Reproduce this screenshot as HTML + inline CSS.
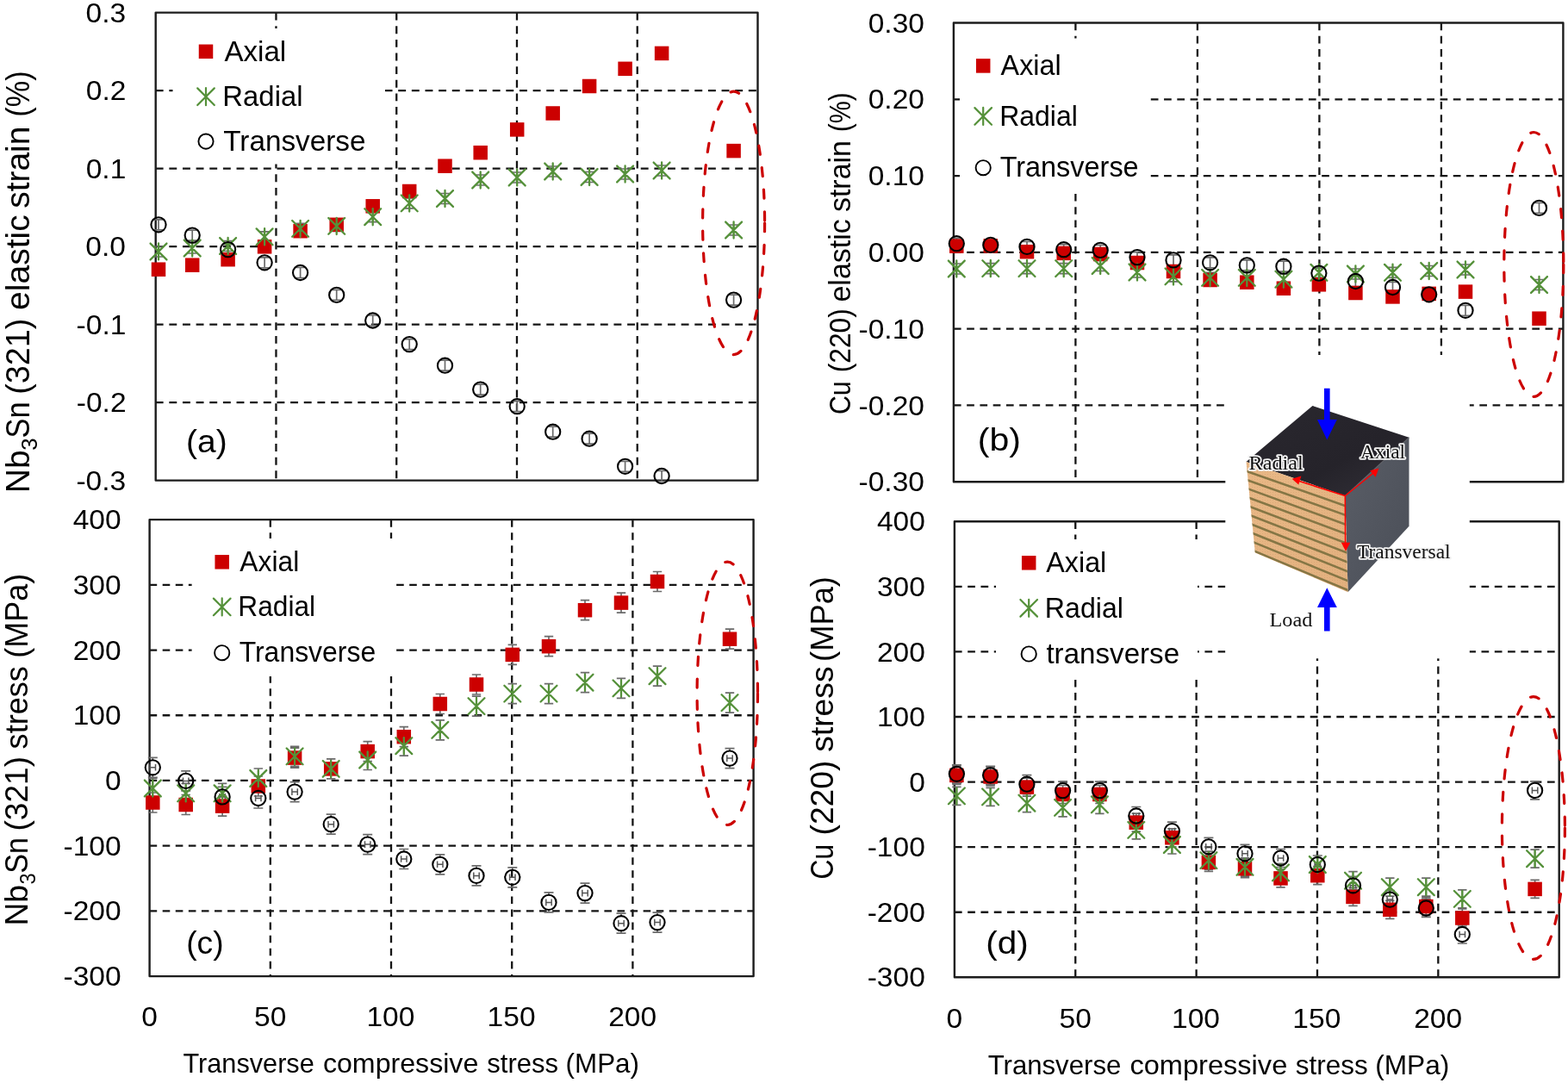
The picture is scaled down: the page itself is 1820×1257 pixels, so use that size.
<!DOCTYPE html>
<html><head><meta charset="utf-8"><title>Figure</title>
<style>
html,body{margin:0;padding:0;background:#fff;}
svg{display:block;}
#w{width:1820px;height:1257px;}
text.s{font-family:"Liberation Sans",Arial,sans-serif;fill:#000;}
text.r{font-family:"Liberation Serif","Times New Roman",serif;fill:#111;}
</style></head><body><div id="w">
<svg width="1820" height="1257" viewBox="0 0 1820 1257">
<rect width="1820" height="1257" fill="#fff"/>
<g stroke="#141414" stroke-width="2.3" stroke-dasharray="8.91 6.73" fill="none">
<line x1="180.7" y1="105.1" x2="879.5" y2="105.1"/>
<line x1="180.7" y1="195.6" x2="879.5" y2="195.6"/>
<line x1="180.7" y1="286.1" x2="879.5" y2="286.1"/>
<line x1="180.7" y1="376.6" x2="879.5" y2="376.6"/>
<line x1="180.7" y1="467.1" x2="879.5" y2="467.1"/>
<line x1="320.46" y1="14.6" x2="320.46" y2="557.6"/>
<line x1="460.22" y1="14.6" x2="460.22" y2="557.6"/>
<line x1="599.98" y1="14.6" x2="599.98" y2="557.6"/>
<line x1="739.74" y1="14.6" x2="739.74" y2="557.6"/>
</g>
<g stroke="#141414" stroke-width="2.3" stroke-dasharray="8.7 6.56" fill="none">
<line x1="1106.9" y1="115.28" x2="1814.4" y2="115.28"/>
<line x1="1106.9" y1="204.07" x2="1814.4" y2="204.07"/>
<line x1="1106.9" y1="292.85" x2="1814.4" y2="292.85"/>
<line x1="1106.9" y1="381.63" x2="1814.4" y2="381.63"/>
<line x1="1106.9" y1="470.42" x2="1814.4" y2="470.42"/>
<line x1="1248.4" y1="26.5" x2="1248.4" y2="559.2"/>
<line x1="1389.9" y1="26.5" x2="1389.9" y2="559.2"/>
<line x1="1531.4" y1="26.5" x2="1531.4" y2="559.2"/>
<line x1="1672.9" y1="26.5" x2="1672.9" y2="559.2"/>
</g>
<g stroke="#141414" stroke-width="2.3" stroke-dasharray="8.6 6.48" fill="none">
<line x1="173.6" y1="678.81" x2="874.6" y2="678.81"/>
<line x1="173.6" y1="754.53" x2="874.6" y2="754.53"/>
<line x1="173.6" y1="830.24" x2="874.6" y2="830.24"/>
<line x1="173.6" y1="905.96" x2="874.6" y2="905.96"/>
<line x1="173.6" y1="981.67" x2="874.6" y2="981.67"/>
<line x1="173.6" y1="1057.39" x2="874.6" y2="1057.39"/>
<line x1="313.8" y1="603.1" x2="313.8" y2="1133.1"/>
<line x1="454" y1="603.1" x2="454" y2="1133.1"/>
<line x1="594.2" y1="603.1" x2="594.2" y2="1133.1"/>
<line x1="734.4" y1="603.1" x2="734.4" y2="1133.1"/>
</g>
<g stroke="#141414" stroke-width="2.3" stroke-dasharray="8.72 6.57" fill="none">
<line x1="1107.9" y1="680.87" x2="1809.7" y2="680.87"/>
<line x1="1107.9" y1="756.44" x2="1809.7" y2="756.44"/>
<line x1="1107.9" y1="832.01" x2="1809.7" y2="832.01"/>
<line x1="1107.9" y1="907.59" x2="1809.7" y2="907.59"/>
<line x1="1107.9" y1="983.16" x2="1809.7" y2="983.16"/>
<line x1="1107.9" y1="1058.73" x2="1809.7" y2="1058.73"/>
<line x1="1248.26" y1="605.3" x2="1248.26" y2="1134.3"/>
<line x1="1388.62" y1="605.3" x2="1388.62" y2="1134.3"/>
<line x1="1528.98" y1="605.3" x2="1528.98" y2="1134.3"/>
<line x1="1669.34" y1="605.3" x2="1669.34" y2="1134.3"/>
</g>
<g fill="#fff">
<rect x="200.5" y="33" width="246.5" height="157.5"/>
<rect x="1114" y="44.5" width="221" height="180.3"/>
<rect x="222.6" y="625" width="236.4" height="160"/>
<rect x="1156" y="626" width="234" height="163"/>
</g>
<g stroke="#1c1c1c" stroke-width="2.4" stroke-linejoin="round" fill="none">
<rect x="180.7" y="14.6" width="698.8" height="543"/>
<rect x="1106.9" y="26.5" width="707.5" height="532.7"/>
<rect x="173.6" y="603.1" width="701" height="530"/>
<rect x="1107.9" y="605.3" width="701.8" height="529"/>
</g>
<path fill="none" stroke="#6b6b6b" stroke-width="1.7" d="M184 306.7V318.7M178.8 306.7H189.2M178.8 318.7H189.2M223.2 301.7V313.7M218 301.7H228.4M218 313.7H228.4M264.6 295.2V307.2M259.4 295.2H269.8M259.4 307.2H269.8M307.1 280.3V292.3M301.9 280.3H312.3M301.9 292.3H312.3M348.6 262.2V274.2M343.4 262.2H353.8M343.4 274.2H353.8M390.7 254.8V266.8M385.5 254.8H395.9M385.5 266.8H395.9M432.7 233.3V245.3M427.5 233.3H437.9M427.5 245.3H437.9M475.2 216V228M470 216H480.4M470 228H480.4M516.5 186.7V198.7M511.3 186.7H521.7M511.3 198.7H521.7M557.7 171.2V183.2M552.5 171.2H562.9M552.5 183.2H562.9M600.2 144.4V156.4M595 144.4H605.4M595 156.4H605.4M641.7 125.5V137.5M636.5 125.5H646.9M636.5 137.5H646.9M684.1 94V106M678.9 94H689.3M678.9 106H689.3M725.6 73.8V85.8M720.4 73.8H730.8M720.4 85.8H730.8M768.1 55.9V67.9M762.9 55.9H773.3M762.9 67.9H773.3M851.6 169.1V181.1M846.4 169.1H856.8M846.4 181.1H856.8M184 286V298M178.8 286H189.2M178.8 298H189.2M223.2 282V294M218 282H228.4M218 294H228.4M264.6 279.5V291.5M259.4 279.5H269.8M259.4 291.5H269.8M307.1 268.8V280.8M301.9 268.8H312.3M301.9 280.8H312.3M348.6 259.4V271.4M343.4 259.4H353.8M343.4 271.4H353.8M390.7 256.4V268.4M385.5 256.4H395.9M385.5 268.4H395.9M432.7 245.7V257.7M427.5 245.7H437.9M427.5 257.7H437.9M475.2 229.9V241.9M470 229.9H480.4M470 241.9H480.4M516.5 224.5V236.5M511.3 224.5H521.7M511.3 236.5H521.7M557.7 203V215M552.5 203H562.9M552.5 215H562.9M600.2 200V212M595 200H605.4M595 212H605.4M641.7 193V205M636.5 193H646.9M636.5 205H646.9M684.1 199.5V211.5M678.9 199.5H689.3M678.9 211.5H689.3M725.6 196V208M720.4 196H730.8M720.4 208H730.8M768.1 192V204M762.9 192H773.3M762.9 204H773.3M851.6 261V273M846.4 261H856.8M846.4 273H856.8M184 254.8V266.8M178.5 254.8H189.5M178.5 266.8H189.5M223.2 267.1V279.1M217.7 267.1H228.7M217.7 279.1H228.7M264.6 283.6V295.6M259.1 283.6H270.1M259.1 295.6H270.1M307.1 298.8V310.8M301.6 298.8H312.6M301.6 310.8H312.6M348.6 310.5V322.5M343.1 310.5H354.1M343.1 322.5H354.1M390.7 336.4V348.4M385.2 336.4H396.2M385.2 348.4H396.2M432.7 366V378M427.2 366H438.2M427.2 378H438.2M475.2 393.6V405.6M469.7 393.6H480.7M469.7 405.6H480.7M516.5 418.2V430.2M511 418.2H522M511 430.2H522M557.7 446.1V458.1M552.2 446.1H563.2M552.2 458.1H563.2M600.2 465.7V477.7M594.7 465.7H605.7M594.7 477.7H605.7M641.7 495.2V507.2M636.2 495.2H647.2M636.2 507.2H647.2M684.1 503.2V515.2M678.6 503.2H689.6M678.6 515.2H689.6M725.6 535.3V547.3M720.1 535.3H731.1M720.1 547.3H731.1M768.1 546.5V558.5M762.6 546.5H773.6M762.6 558.5H773.6M851.6 342.1V354.1M846.1 342.1H857.1M846.1 354.1H857.1"/>
<g fill="#cc0000">
<rect x="175.75" y="304.45" width="16.5" height="16.5"/>
<rect x="214.95" y="299.45" width="16.5" height="16.5"/>
<rect x="256.35" y="292.95" width="16.5" height="16.5"/>
<rect x="298.85" y="278.05" width="16.5" height="16.5"/>
<rect x="340.35" y="259.95" width="16.5" height="16.5"/>
<rect x="382.45" y="252.55" width="16.5" height="16.5"/>
<rect x="424.45" y="231.05" width="16.5" height="16.5"/>
<rect x="466.95" y="213.75" width="16.5" height="16.5"/>
<rect x="508.25" y="184.45" width="16.5" height="16.5"/>
<rect x="549.45" y="168.95" width="16.5" height="16.5"/>
<rect x="591.95" y="142.15" width="16.5" height="16.5"/>
<rect x="633.45" y="123.25" width="16.5" height="16.5"/>
<rect x="675.85" y="91.75" width="16.5" height="16.5"/>
<rect x="717.35" y="71.55" width="16.5" height="16.5"/>
<rect x="759.85" y="53.65" width="16.5" height="16.5"/>
<rect x="843.35" y="166.85" width="16.5" height="16.5"/>
</g>
<path fill="none" stroke="#55913a" stroke-width="2.3" stroke-linecap="round" d="M174.59 282.59L193.41 301.41M174.59 301.41L193.41 282.59M184 282.4V301.6M213.79 278.59L232.61 297.41M213.79 297.41L232.61 278.59M223.2 278.4V297.6M255.19 276.09L274.01 294.91M255.19 294.91L274.01 276.09M264.6 275.9V295.1M297.69 265.39L316.51 284.21M297.69 284.21L316.51 265.39M307.1 265.2V284.4M339.19 255.99L358.01 274.81M339.19 274.81L358.01 255.99M348.6 255.8V275M381.29 252.99L400.11 271.81M381.29 271.81L400.11 252.99M390.7 252.8V272M423.29 242.29L442.11 261.11M423.29 261.11L442.11 242.29M432.7 242.1V261.3M465.79 226.49L484.61 245.31M465.79 245.31L484.61 226.49M475.2 226.3V245.5M507.09 221.09L525.91 239.91M507.09 239.91L525.91 221.09M516.5 220.9V240.1M548.29 199.59L567.11 218.41M548.29 218.41L567.11 199.59M557.7 199.4V218.6M590.79 196.59L609.61 215.41M590.79 215.41L609.61 196.59M600.2 196.4V215.6M632.29 189.59L651.11 208.41M632.29 208.41L651.11 189.59M641.7 189.4V208.6M674.69 196.09L693.51 214.91M674.69 214.91L693.51 196.09M684.1 195.9V215.1M716.19 192.59L735.01 211.41M716.19 211.41L735.01 192.59M725.6 192.4V211.6M758.69 188.59L777.51 207.41M758.69 207.41L777.51 188.59M768.1 188.4V207.6M842.19 257.59L861.01 276.41M842.19 276.41L861.01 257.59M851.6 257.4V276.6"/>
<g fill="none" stroke="#000" stroke-width="2.1">
<circle cx="184" cy="260.8" r="8.6"/>
<circle cx="223.2" cy="273.1" r="8.6"/>
<circle cx="264.6" cy="289.6" r="8.6"/>
<circle cx="307.1" cy="304.8" r="8.6"/>
<circle cx="348.6" cy="316.5" r="8.6"/>
<circle cx="390.7" cy="342.4" r="8.6"/>
<circle cx="432.7" cy="372" r="8.6"/>
<circle cx="475.2" cy="399.6" r="8.6"/>
<circle cx="516.5" cy="424.2" r="8.6"/>
<circle cx="557.7" cy="452.1" r="8.6"/>
<circle cx="600.2" cy="471.7" r="8.6"/>
<circle cx="641.7" cy="501.2" r="8.6"/>
<circle cx="684.1" cy="509.2" r="8.6"/>
<circle cx="725.6" cy="541.3" r="8.6"/>
<circle cx="768.1" cy="552.5" r="8.6"/>
<circle cx="851.6" cy="348.1" r="8.6"/>
</g>
<path fill="none" stroke="#6b6b6b" stroke-width="1.7" d="M1110.3 279.6V291.6M1105.1 279.6H1115.5M1105.1 291.6H1115.5M1149.8 279.4V291.4M1144.6 279.4H1155M1144.6 291.4H1155M1192 286.2V298.2M1186.8 286.2H1197.2M1186.8 298.2H1197.2M1234.7 287.9V299.9M1229.5 287.9H1239.9M1229.5 299.9H1239.9M1277.2 289V301M1272 289H1282.4M1272 301H1282.4M1320 299V311M1314.8 299H1325.2M1314.8 311H1325.2M1362 309V321M1356.8 309H1367.2M1356.8 321H1367.2M1404.6 319V331M1399.4 319H1409.8M1399.4 331H1409.8M1447.3 321.7V333.7M1442.1 321.7H1452.5M1442.1 333.7H1452.5M1489.9 328.7V340.7M1484.7 328.7H1495.1M1484.7 340.7H1495.1M1530.9 324.3V336.3M1525.7 324.3H1536.1M1525.7 336.3H1536.1M1573.4 334V346M1568.2 334H1578.6M1568.2 346H1578.6M1616.5 338.4V350.4M1611.3 338.4H1621.7M1611.3 350.4H1621.7M1658.7 334.9V346.9M1653.5 334.9H1663.9M1653.5 346.9H1663.9M1701 332.6V344.6M1695.8 332.6H1706.2M1695.8 344.6H1706.2M1786.5 363.7V375.7M1781.3 363.7H1791.7M1781.3 375.7H1791.7M1110.3 306V318M1105.1 306H1115.5M1105.1 318H1115.5M1149.8 305.6V317.6M1144.6 305.6H1155M1144.6 317.6H1155M1192 305.6V317.6M1186.8 305.6H1197.2M1186.8 317.6H1197.2M1234.7 305.6V317.6M1229.5 305.6H1239.9M1229.5 317.6H1239.9M1277.2 302.5V314.5M1272 302.5H1282.4M1272 314.5H1282.4M1320 310V322M1314.8 310H1325.2M1314.8 322H1325.2M1362 314.9V326.9M1356.8 314.9H1367.2M1356.8 326.9H1367.2M1404.6 316.4V328.4M1399.4 316.4H1409.8M1399.4 328.4H1409.8M1447.3 316.4V328.4M1442.1 316.4H1452.5M1442.1 328.4H1452.5M1489.9 318.2V330.2M1484.7 318.2H1495.1M1484.7 330.2H1495.1M1530.9 310.3V322.3M1525.7 310.3H1536.1M1525.7 322.3H1536.1M1573.4 312V324M1568.2 312H1578.6M1568.2 324H1578.6M1616.5 310.3V322.3M1611.3 310.3H1621.7M1611.3 322.3H1621.7M1658.7 308.5V320.5M1653.5 308.5H1663.9M1653.5 320.5H1663.9M1701 307V319M1695.8 307H1706.2M1695.8 319H1706.2M1786.5 324.5V336.5M1781.3 324.5H1791.7M1781.3 336.5H1791.7M1110.3 276.7V288.7M1104.8 276.7H1115.8M1104.8 288.7H1115.8M1149.8 278.4V290.4M1144.3 278.4H1155.3M1144.3 290.4H1155.3M1192 280.4V292.4M1186.5 280.4H1197.5M1186.5 292.4H1197.5M1234.7 283.7V295.7M1229.2 283.7H1240.2M1229.2 295.7H1240.2M1277.2 284.4V296.4M1271.7 284.4H1282.7M1271.7 296.4H1282.7M1320 292.6V304.6M1314.5 292.6H1325.5M1314.5 304.6H1325.5M1362 295.9V307.9M1356.5 295.9H1367.5M1356.5 307.9H1367.5M1404.6 298.8V310.8M1399.1 298.8H1410.1M1399.1 310.8H1410.1M1447.3 301.8V313.8M1441.8 301.8H1452.8M1441.8 313.8H1452.8M1489.9 303.2V315.2M1484.4 303.2H1495.4M1484.4 315.2H1495.4M1530.9 311.1V323.1M1525.4 311.1H1536.4M1525.4 323.1H1536.4M1573.4 320.5V332.5M1567.9 320.5H1578.9M1567.9 332.5H1578.9M1616.5 327.5V339.5M1611 327.5H1622M1611 339.5H1622M1658.7 335.8V347.8M1653.2 335.8H1664.2M1653.2 347.8H1664.2M1701 354.3V366.3M1695.5 354.3H1706.5M1695.5 366.3H1706.5M1786.5 235.4V247.4M1781 235.4H1792M1781 247.4H1792"/>
<g fill="#cc0000">
<rect x="1102.05" y="277.35" width="16.5" height="16.5"/>
<rect x="1141.55" y="277.15" width="16.5" height="16.5"/>
<rect x="1183.75" y="283.95" width="16.5" height="16.5"/>
<rect x="1226.45" y="285.65" width="16.5" height="16.5"/>
<rect x="1268.95" y="286.75" width="16.5" height="16.5"/>
<rect x="1311.75" y="296.75" width="16.5" height="16.5"/>
<rect x="1353.75" y="306.75" width="16.5" height="16.5"/>
<rect x="1396.35" y="316.75" width="16.5" height="16.5"/>
<rect x="1439.05" y="319.45" width="16.5" height="16.5"/>
<rect x="1481.65" y="326.45" width="16.5" height="16.5"/>
<rect x="1522.65" y="322.05" width="16.5" height="16.5"/>
<rect x="1565.15" y="331.75" width="16.5" height="16.5"/>
<rect x="1608.25" y="336.15" width="16.5" height="16.5"/>
<rect x="1650.45" y="332.65" width="16.5" height="16.5"/>
<rect x="1692.75" y="330.35" width="16.5" height="16.5"/>
<rect x="1778.25" y="361.45" width="16.5" height="16.5"/>
</g>
<path fill="none" stroke="#55913a" stroke-width="2.3" stroke-linecap="round" d="M1100.89 302.59L1119.71 321.41M1100.89 321.41L1119.71 302.59M1110.3 302.4V321.6M1140.39 302.19L1159.21 321.01M1140.39 321.01L1159.21 302.19M1149.8 302V321.2M1182.59 302.19L1201.41 321.01M1182.59 321.01L1201.41 302.19M1192 302V321.2M1225.29 302.19L1244.11 321.01M1225.29 321.01L1244.11 302.19M1234.7 302V321.2M1267.79 299.09L1286.61 317.91M1267.79 317.91L1286.61 299.09M1277.2 298.9V318.1M1310.59 306.59L1329.41 325.41M1310.59 325.41L1329.41 306.59M1320 306.4V325.6M1352.59 311.49L1371.41 330.31M1352.59 330.31L1371.41 311.49M1362 311.3V330.5M1395.19 312.99L1414.01 331.81M1395.19 331.81L1414.01 312.99M1404.6 312.8V332M1437.89 312.99L1456.71 331.81M1437.89 331.81L1456.71 312.99M1447.3 312.8V332M1480.49 314.79L1499.31 333.61M1480.49 333.61L1499.31 314.79M1489.9 314.6V333.8M1521.49 306.89L1540.31 325.71M1521.49 325.71L1540.31 306.89M1530.9 306.7V325.9M1563.99 308.59L1582.81 327.41M1563.99 327.41L1582.81 308.59M1573.4 308.4V327.6M1607.09 306.89L1625.91 325.71M1607.09 325.71L1625.91 306.89M1616.5 306.7V325.9M1649.29 305.09L1668.11 323.91M1649.29 323.91L1668.11 305.09M1658.7 304.9V324.1M1691.59 303.59L1710.41 322.41M1691.59 322.41L1710.41 303.59M1701 303.4V322.6M1777.09 321.09L1795.91 339.91M1777.09 339.91L1795.91 321.09M1786.5 320.9V340.1"/>
<g fill="none" stroke="#000" stroke-width="2.1">
<circle cx="1110.3" cy="282.7" r="8.6"/>
<circle cx="1149.8" cy="284.4" r="8.6"/>
<circle cx="1192" cy="286.4" r="8.6"/>
<circle cx="1234.7" cy="289.7" r="8.6"/>
<circle cx="1277.2" cy="290.4" r="8.6"/>
<circle cx="1320" cy="298.6" r="8.6"/>
<circle cx="1362" cy="301.9" r="8.6"/>
<circle cx="1404.6" cy="304.8" r="8.6"/>
<circle cx="1447.3" cy="307.8" r="8.6"/>
<circle cx="1489.9" cy="309.2" r="8.6"/>
<circle cx="1530.9" cy="317.1" r="8.6"/>
<circle cx="1573.4" cy="326.5" r="8.6"/>
<circle cx="1616.5" cy="333.5" r="8.6"/>
<circle cx="1658.7" cy="341.8" r="8.6"/>
<circle cx="1701" cy="360.3" r="8.6"/>
<circle cx="1786.5" cy="241.4" r="8.6"/>
</g>
<path fill="none" stroke="#6b6b6b" stroke-width="1.7" d="M177.3 920V943M172.1 920H182.5M172.1 943H182.5M215.7 922.5V945.5M210.5 922.5H220.9M210.5 945.5H220.9M258.1 924.1V947.1M252.9 924.1H263.3M252.9 947.1H263.3M299.8 901V924M294.6 901H305M294.6 924H305M342.1 868.1V891.1M336.9 868.1H347.3M336.9 891.1H347.3M384.2 880.9V903.9M379 880.9H389.4M379 903.9H389.4M426.7 860.6V883.6M421.5 860.6H431.9M421.5 883.6H431.9M468.8 843.7V866.7M463.6 843.7H474M463.6 866.7H474M510.8 805.5V828.5M505.6 805.5H516M505.6 828.5H516M553 783V806M547.8 783H558.2M547.8 806H558.2M594.8 748.4V771.4M589.6 748.4H600M589.6 771.4H600M637 738.7V761.7M631.8 738.7H642.2M631.8 761.7H642.2M679 696.7V719.7M673.8 696.7H684.2M673.8 719.7H684.2M721 688.1V711.1M715.8 688.1H726.2M715.8 711.1H726.2M763 663.5V686.5M757.8 663.5H768.2M757.8 686.5H768.2M847 730.2V753.2M841.8 730.2H852.2M841.8 753.2H852.2M177.3 903.5V926.5M172.1 903.5H182.5M172.1 926.5H182.5M215.7 909.3V932.3M210.5 909.3H220.9M210.5 932.3H220.9M258.1 909.3V932.3M252.9 909.3H263.3M252.9 932.3H263.3M299.8 892V915M294.6 892H305M294.6 915H305M342.1 866.4V889.4M336.9 866.4H347.3M336.9 889.4H347.3M384.2 880.9V903.9M379 880.9H389.4M379 903.9H389.4M426.7 870.5V893.5M421.5 870.5H431.9M421.5 893.5H431.9M468.8 854.2V877.2M463.6 854.2H474M463.6 877.2H474M510.8 835.8V858.8M505.6 835.8H516M505.6 858.8H516M553 808.1V831.1M547.8 808.1H558.2M547.8 831.1H558.2M594.8 793.6V816.6M589.6 793.6H600M589.6 816.6H600M637 793.6V816.6M631.8 793.6H642.2M631.8 816.6H642.2M679 780.7V803.7M673.8 780.7H684.2M673.8 803.7H684.2M721 787.4V810.4M715.8 787.4H726.2M715.8 810.4H726.2M763 773.2V796.2M757.8 773.2H768.2M757.8 796.2H768.2M847 804.1V827.1M841.8 804.1H852.2M841.8 827.1H852.2M177.3 879.3V882.2M177.3 899.4V902.3M171.8 879.3H182.8M171.8 902.3H182.8M215.7 894.9V897.8M215.7 915V917.9M210.2 894.9H221.2M210.2 917.9H221.2M258.1 913.4V916.3M258.1 933.5V936.4M252.6 913.4H263.6M252.6 936.4H263.6M299.8 915V917.9M299.8 935.1V938M294.3 915H305.3M294.3 938H305.3M342.1 907.6V910.5M342.1 927.7V930.6M336.6 907.6H347.6M336.6 930.6H347.6M384.2 945.2V948.1M384.2 965.3V968.2M378.7 945.2H389.7M378.7 968.2H389.7M426.7 968.6V971.5M426.7 988.7V991.6M421.2 968.6H432.2M421.2 991.6H432.2M468.8 985.5V988.4M468.8 1005.6V1008.5M463.3 985.5H474.3M463.3 1008.5H474.3M510.8 991.8V994.7M510.8 1011.9V1014.8M505.3 991.8H516.3M505.3 1014.8H516.3M553 1004.9V1007.8M553 1025V1027.9M547.5 1004.9H558.5M547.5 1027.9H558.5M594.8 1006.8V1009.7M594.8 1026.9V1029.8M589.3 1006.8H600.3M589.3 1029.8H600.3M637 1035.9V1038.8M637 1056V1058.9M631.5 1035.9H642.5M631.5 1058.9H642.5M679 1025.1V1028M679 1045.2V1048.1M673.5 1025.1H684.5M673.5 1048.1H684.5M721 1060.2V1063.1M721 1080.3V1083.2M715.5 1060.2H726.5M715.5 1083.2H726.5M763 1059.1V1062M763 1079.2V1082.1M757.5 1059.1H768.5M757.5 1082.1H768.5M847 868.6V871.5M847 888.7V891.6M841.5 868.6H852.5M841.5 891.6H852.5"/>
<path fill="none" stroke="#555" stroke-width="1.5" d="M174.1 890.8H180.5M174.1 887V894.6M180.5 887V894.6M212.5 906.4H218.9M212.5 902.6V910.2M218.9 902.6V910.2M254.9 924.9H261.3M254.9 921.1V928.7M261.3 921.1V928.7M296.6 926.5H303M296.6 922.7V930.3M303 922.7V930.3M338.9 919.1H345.3M338.9 915.3V922.9M345.3 915.3V922.9M381 956.7H387.4M381 952.9V960.5M387.4 952.9V960.5M423.5 980.1H429.9M423.5 976.3V983.9M429.9 976.3V983.9M465.6 997H472M465.6 993.2V1000.8M472 993.2V1000.8M507.6 1003.3H514M507.6 999.5V1007.1M514 999.5V1007.1M549.8 1016.4H556.2M549.8 1012.6V1020.2M556.2 1012.6V1020.2M591.6 1018.3H598M591.6 1014.5V1022.1M598 1014.5V1022.1M633.8 1047.4H640.2M633.8 1043.6V1051.2M640.2 1043.6V1051.2M675.8 1036.6H682.2M675.8 1032.8V1040.4M682.2 1032.8V1040.4M717.8 1071.7H724.2M717.8 1067.9V1075.5M724.2 1067.9V1075.5M759.8 1070.6H766.2M759.8 1066.8V1074.4M766.2 1066.8V1074.4M843.8 880.1H850.2M843.8 876.3V883.9M850.2 876.3V883.9"/>
<g fill="#cc0000">
<rect x="169.05" y="923.25" width="16.5" height="16.5"/>
<rect x="207.45" y="925.75" width="16.5" height="16.5"/>
<rect x="249.85" y="927.35" width="16.5" height="16.5"/>
<rect x="291.55" y="904.25" width="16.5" height="16.5"/>
<rect x="333.85" y="871.35" width="16.5" height="16.5"/>
<rect x="375.95" y="884.15" width="16.5" height="16.5"/>
<rect x="418.45" y="863.85" width="16.5" height="16.5"/>
<rect x="460.55" y="846.95" width="16.5" height="16.5"/>
<rect x="502.55" y="808.75" width="16.5" height="16.5"/>
<rect x="544.75" y="786.25" width="16.5" height="16.5"/>
<rect x="586.55" y="751.65" width="16.5" height="16.5"/>
<rect x="628.75" y="741.95" width="16.5" height="16.5"/>
<rect x="670.75" y="699.95" width="16.5" height="16.5"/>
<rect x="712.75" y="691.35" width="16.5" height="16.5"/>
<rect x="754.75" y="666.75" width="16.5" height="16.5"/>
<rect x="838.75" y="733.45" width="16.5" height="16.5"/>
</g>
<path fill="none" stroke="#55913a" stroke-width="2.3" stroke-linecap="round" d="M167.89 905.59L186.71 924.41M167.89 924.41L186.71 905.59M177.3 905.4V924.6M206.29 911.39L225.11 930.21M206.29 930.21L225.11 911.39M215.7 911.2V930.4M248.69 911.39L267.51 930.21M248.69 930.21L267.51 911.39M258.1 911.2V930.4M290.39 894.09L309.21 912.91M290.39 912.91L309.21 894.09M299.8 893.9V913.1M332.69 868.49L351.51 887.31M332.69 887.31L351.51 868.49M342.1 868.3V887.5M374.79 882.99L393.61 901.81M374.79 901.81L393.61 882.99M384.2 882.8V902M417.29 872.59L436.11 891.41M417.29 891.41L436.11 872.59M426.7 872.4V891.6M459.39 856.29L478.21 875.11M459.39 875.11L478.21 856.29M468.8 856.1V875.3M501.39 837.89L520.21 856.71M501.39 856.71L520.21 837.89M510.8 837.7V856.9M543.59 810.19L562.41 829.01M543.59 829.01L562.41 810.19M553 810V829.2M585.39 795.69L604.21 814.51M585.39 814.51L604.21 795.69M594.8 795.5V814.7M627.59 795.69L646.41 814.51M627.59 814.51L646.41 795.69M637 795.5V814.7M669.59 782.79L688.41 801.61M669.59 801.61L688.41 782.79M679 782.6V801.8M711.59 789.49L730.41 808.31M711.59 808.31L730.41 789.49M721 789.3V808.5M753.59 775.29L772.41 794.11M753.59 794.11L772.41 775.29M763 775.1V794.3M837.59 806.19L856.41 825.01M837.59 825.01L856.41 806.19M847 806V825.2"/>
<g fill="none" stroke="#000" stroke-width="2.1">
<circle cx="177.3" cy="890.8" r="8.6"/>
<circle cx="215.7" cy="906.4" r="8.6"/>
<circle cx="258.1" cy="924.9" r="8.6"/>
<circle cx="299.8" cy="926.5" r="8.6"/>
<circle cx="342.1" cy="919.1" r="8.6"/>
<circle cx="384.2" cy="956.7" r="8.6"/>
<circle cx="426.7" cy="980.1" r="8.6"/>
<circle cx="468.8" cy="997" r="8.6"/>
<circle cx="510.8" cy="1003.3" r="8.6"/>
<circle cx="553" cy="1016.4" r="8.6"/>
<circle cx="594.8" cy="1018.3" r="8.6"/>
<circle cx="637" cy="1047.4" r="8.6"/>
<circle cx="679" cy="1036.6" r="8.6"/>
<circle cx="721" cy="1071.7" r="8.6"/>
<circle cx="763" cy="1070.6" r="8.6"/>
<circle cx="847" cy="880.1" r="8.6"/>
</g>
<path fill="none" stroke="#6b6b6b" stroke-width="1.7" d="M1110.4 889.4V910.4M1105.2 889.4H1115.6M1105.2 910.4H1115.6M1149.6 891V912M1144.4 891H1154.8M1144.4 912H1154.8M1191.9 903.1V924.1M1186.7 903.1H1197.1M1186.7 924.1H1197.1M1233.6 911.5V932.5M1228.4 911.5H1238.8M1228.4 932.5H1238.8M1276.4 911.5V932.5M1271.2 911.5H1281.6M1271.2 932.5H1281.6M1318.8 944.2V965.2M1313.6 944.2H1324M1313.6 965.2H1324M1360.4 961.8V982.8M1355.2 961.8H1365.6M1355.2 982.8H1365.6M1402.9 990.4V1011.4M1397.7 990.4H1408.1M1397.7 1011.4H1408.1M1445 997.7V1018.7M1439.8 997.7H1450.2M1439.8 1018.7H1450.2M1486.5 1008.9V1029.9M1481.3 1008.9H1491.7M1481.3 1029.9H1491.7M1529.3 1005.7V1026.7M1524.1 1005.7H1534.5M1524.1 1026.7H1534.5M1570.5 1030.4V1051.4M1565.3 1030.4H1575.7M1565.3 1051.4H1575.7M1613.3 1045.3V1066.3M1608.1 1045.3H1618.5M1608.1 1066.3H1618.5M1655.3 1041.6V1062.6M1650.1 1041.6H1660.5M1650.1 1062.6H1660.5M1697.3 1055V1076M1692.1 1055H1702.5M1692.1 1076H1702.5M1781.6 1021.4V1042.4M1776.4 1021.4H1786.8M1776.4 1042.4H1786.8M1110.4 913.4V934.4M1105.2 913.4H1115.6M1105.2 934.4H1115.6M1149.6 914.4V935.4M1144.4 914.4H1154.8M1144.4 935.4H1154.8M1191.9 921.7V942.7M1186.7 921.7H1197.1M1186.7 942.7H1197.1M1233.6 926.9V947.9M1228.4 926.9H1238.8M1228.4 947.9H1238.8M1276.4 923.3V944.3M1271.2 923.3H1281.6M1271.2 944.3H1281.6M1318.8 952.9V973.9M1313.6 952.9H1324M1313.6 973.9H1324M1360.4 970V991M1355.2 970H1365.6M1355.2 991H1365.6M1402.9 988.1V1009.1M1397.7 988.1H1408.1M1397.7 1009.1H1408.1M1445 995.8V1016.8M1439.8 995.8H1450.2M1439.8 1016.8H1450.2M1486.5 1002.4V1023.4M1481.3 1002.4H1491.7M1481.3 1023.4H1491.7M1529.3 993V1014M1524.1 993H1534.5M1524.1 1014H1534.5M1570.5 1011.7V1032.7M1565.3 1011.7H1575.7M1565.3 1032.7H1575.7M1613.3 1019.2V1040.2M1608.1 1019.2H1618.5M1608.1 1040.2H1618.5M1655.3 1019.2V1040.2M1650.1 1019.2H1660.5M1650.1 1040.2H1660.5M1697.3 1032.9V1053.9M1692.1 1032.9H1702.5M1692.1 1053.9H1702.5M1781.6 986.2V1007.2M1776.4 986.2H1786.8M1776.4 1007.2H1786.8M1110.4 887.8V889.7M1110.4 906.9V908.8M1104.9 887.8H1115.9M1104.9 908.8H1115.9M1149.6 889.3V891.2M1149.6 908.4V910.3M1144.1 889.3H1155.1M1144.1 910.3H1155.1M1191.9 899.7V901.6M1191.9 918.8V920.7M1186.4 899.7H1197.4M1186.4 920.7H1197.4M1233.6 907.1V909M1233.6 926.2V928.1M1228.1 907.1H1239.1M1228.1 928.1H1239.1M1276.4 907.1V909M1276.4 926.2V928.1M1270.9 907.1H1281.9M1270.9 928.1H1281.9M1318.8 936.5V938.4M1318.8 955.6V957.5M1313.3 936.5H1324.3M1313.3 957.5H1324.3M1360.4 954.1V956M1360.4 973.2V975.1M1354.9 954.1H1365.9M1354.9 975.1H1365.9M1402.9 972.3V974.2M1402.9 991.4V993.3M1397.4 972.3H1408.4M1397.4 993.3H1408.4M1445 980.3V982.2M1445 999.4V1001.3M1439.5 980.3H1450.5M1439.5 1001.3H1450.5M1486.5 985.5V987.4M1486.5 1004.6V1006.5M1481 985.5H1492M1481 1006.5H1492M1529.3 993V994.9M1529.3 1012.1V1014M1523.8 993H1534.8M1523.8 1014H1534.8M1570.5 1017.3V1019.2M1570.5 1036.4V1038.3M1565 1017.3H1576M1565 1038.3H1576M1613.3 1033.6V1035.5M1613.3 1052.7V1054.6M1607.8 1033.6H1618.8M1607.8 1054.6H1618.8M1655.3 1043.5V1045.4M1655.3 1062.6V1064.5M1649.8 1043.5H1660.8M1649.8 1064.5H1660.8M1697.3 1074V1075.9M1697.3 1093.1V1095M1691.8 1074H1702.8M1691.8 1095H1702.8M1781.6 906.9V908.8M1781.6 926V927.9M1776.1 906.9H1787.1M1776.1 927.9H1787.1"/>
<path fill="none" stroke="#555" stroke-width="1.5" d="M1107.2 898.3H1113.6M1107.2 894.5V902.1M1113.6 894.5V902.1M1146.4 899.8H1152.8M1146.4 896V903.6M1152.8 896V903.6M1188.7 910.2H1195.1M1188.7 906.4V914M1195.1 906.4V914M1230.4 917.6H1236.8M1230.4 913.8V921.4M1236.8 913.8V921.4M1273.2 917.6H1279.6M1273.2 913.8V921.4M1279.6 913.8V921.4M1315.6 947H1322M1315.6 943.2V950.8M1322 943.2V950.8M1357.2 964.6H1363.6M1357.2 960.8V968.4M1363.6 960.8V968.4M1399.7 982.8H1406.1M1399.7 979V986.6M1406.1 979V986.6M1441.8 990.8H1448.2M1441.8 987V994.6M1448.2 987V994.6M1483.3 996H1489.7M1483.3 992.2V999.8M1489.7 992.2V999.8M1526.1 1003.5H1532.5M1526.1 999.7V1007.3M1532.5 999.7V1007.3M1567.3 1027.8H1573.7M1567.3 1024V1031.6M1573.7 1024V1031.6M1610.1 1044.1H1616.5M1610.1 1040.3V1047.9M1616.5 1040.3V1047.9M1652.1 1054H1658.5M1652.1 1050.2V1057.8M1658.5 1050.2V1057.8M1694.1 1084.5H1700.5M1694.1 1080.7V1088.3M1700.5 1080.7V1088.3M1778.4 917.4H1784.8M1778.4 913.6V921.2M1784.8 913.6V921.2"/>
<g fill="#cc0000">
<rect x="1102.15" y="891.65" width="16.5" height="16.5"/>
<rect x="1141.35" y="893.25" width="16.5" height="16.5"/>
<rect x="1183.65" y="905.35" width="16.5" height="16.5"/>
<rect x="1225.35" y="913.75" width="16.5" height="16.5"/>
<rect x="1268.15" y="913.75" width="16.5" height="16.5"/>
<rect x="1310.55" y="946.45" width="16.5" height="16.5"/>
<rect x="1352.15" y="964.05" width="16.5" height="16.5"/>
<rect x="1394.65" y="992.65" width="16.5" height="16.5"/>
<rect x="1436.75" y="999.95" width="16.5" height="16.5"/>
<rect x="1478.25" y="1011.15" width="16.5" height="16.5"/>
<rect x="1521.05" y="1007.95" width="16.5" height="16.5"/>
<rect x="1562.25" y="1032.65" width="16.5" height="16.5"/>
<rect x="1605.05" y="1047.55" width="16.5" height="16.5"/>
<rect x="1647.05" y="1043.85" width="16.5" height="16.5"/>
<rect x="1689.05" y="1057.25" width="16.5" height="16.5"/>
<rect x="1773.35" y="1023.65" width="16.5" height="16.5"/>
</g>
<path fill="none" stroke="#55913a" stroke-width="2.3" stroke-linecap="round" d="M1100.99 914.49L1119.81 933.31M1100.99 933.31L1119.81 914.49M1110.4 914.3V933.5M1140.19 915.49L1159.01 934.31M1140.19 934.31L1159.01 915.49M1149.6 915.3V934.5M1182.49 922.79L1201.31 941.61M1182.49 941.61L1201.31 922.79M1191.9 922.6V941.8M1224.19 927.99L1243.01 946.81M1224.19 946.81L1243.01 927.99M1233.6 927.8V947M1266.99 924.39L1285.81 943.21M1266.99 943.21L1285.81 924.39M1276.4 924.2V943.4M1309.39 953.99L1328.21 972.81M1309.39 972.81L1328.21 953.99M1318.8 953.8V973M1350.99 971.09L1369.81 989.91M1350.99 989.91L1369.81 971.09M1360.4 970.9V990.1M1393.49 989.19L1412.31 1008.01M1393.49 1008.01L1412.31 989.19M1402.9 989V1008.2M1435.59 996.89L1454.41 1015.71M1435.59 1015.71L1454.41 996.89M1445 996.7V1015.9M1477.09 1003.49L1495.91 1022.31M1477.09 1022.31L1495.91 1003.49M1486.5 1003.3V1022.5M1519.89 994.09L1538.71 1012.91M1519.89 1012.91L1538.71 994.09M1529.3 993.9V1013.1M1561.09 1012.79L1579.91 1031.61M1561.09 1031.61L1579.91 1012.79M1570.5 1012.6V1031.8M1603.89 1020.29L1622.71 1039.11M1603.89 1039.11L1622.71 1020.29M1613.3 1020.1V1039.3M1645.89 1020.29L1664.71 1039.11M1645.89 1039.11L1664.71 1020.29M1655.3 1020.1V1039.3M1687.89 1033.99L1706.71 1052.81M1687.89 1052.81L1706.71 1033.99M1697.3 1033.8V1053M1772.19 987.29L1791.01 1006.11M1772.19 1006.11L1791.01 987.29M1781.6 987.1V1006.3"/>
<g fill="none" stroke="#000" stroke-width="2.1">
<circle cx="1110.4" cy="898.3" r="8.6"/>
<circle cx="1149.6" cy="899.8" r="8.6"/>
<circle cx="1191.9" cy="910.2" r="8.6"/>
<circle cx="1233.6" cy="917.6" r="8.6"/>
<circle cx="1276.4" cy="917.6" r="8.6"/>
<circle cx="1318.8" cy="947" r="8.6"/>
<circle cx="1360.4" cy="964.6" r="8.6"/>
<circle cx="1402.9" cy="982.8" r="8.6"/>
<circle cx="1445" cy="990.8" r="8.6"/>
<circle cx="1486.5" cy="996" r="8.6"/>
<circle cx="1529.3" cy="1003.5" r="8.6"/>
<circle cx="1570.5" cy="1027.8" r="8.6"/>
<circle cx="1613.3" cy="1044.1" r="8.6"/>
<circle cx="1655.3" cy="1054" r="8.6"/>
<circle cx="1697.3" cy="1084.5" r="8.6"/>
<circle cx="1781.6" cy="917.4" r="8.6"/>
</g>
<g fill="none" stroke="#cc0000" stroke-width="3.2" stroke-dasharray="10 15.5" stroke-linecap="round">
<ellipse cx="851.6" cy="258.9" rx="36.0" ry="152.7"/>
<ellipse cx="1780.3" cy="306.9" rx="34.5" ry="153.4"/>
<ellipse cx="844.3" cy="804.8" rx="35.2" ry="152.7"/>
<ellipse cx="1779.9" cy="961.0" rx="36.5" ry="152.4"/>
</g>
<rect x="230.75" y="51.55" width="16.5" height="16.5" fill="#cc0000"/>
<path fill="none" stroke="#55913a" stroke-width="2.2" stroke-linecap="round" d="M229.2 102.4L248.8 122M229.2 122L248.8 102.4M239 102.2V122.2"/>
<circle cx="239" cy="164.1" r="8.6" fill="none" stroke="#000" stroke-width="1.9"/>
<text class="s" x="260.4" y="71.3" font-size="32.5" textLength="71.84" lengthAdjust="spacingAndGlyphs">Axial</text>
<text class="s" x="258.37" y="123.4" font-size="32.5" textLength="93.17" lengthAdjust="spacingAndGlyphs">Radial</text>
<text class="s" x="259.23" y="174.8" font-size="32.5" textLength="165.25" lengthAdjust="spacingAndGlyphs">Transverse</text>
<rect x="1132.95" y="68.15" width="16.5" height="16.5" fill="#cc0000"/>
<path fill="none" stroke="#55913a" stroke-width="2.2" stroke-linecap="round" d="M1131.4 125.1L1151 144.7M1131.4 144.7L1151 125.1M1141.2 124.9V144.9"/>
<circle cx="1141.2" cy="194.7" r="8.6" fill="none" stroke="#000" stroke-width="1.9"/>
<text class="s" x="1161.6" y="86.5" font-size="32.5" textLength="70.09" lengthAdjust="spacingAndGlyphs">Axial</text>
<text class="s" x="1160.14" y="146" font-size="32.5" textLength="90.74" lengthAdjust="spacingAndGlyphs">Radial</text>
<text class="s" x="1160.65" y="205.2" font-size="32.5" textLength="160.99" lengthAdjust="spacingAndGlyphs">Transverse</text>
<rect x="249.45" y="644.05" width="16.5" height="16.5" fill="#cc0000"/>
<path fill="none" stroke="#55913a" stroke-width="2.2" stroke-linecap="round" d="M247.9 694.6L267.5 714.2M247.9 714.2L267.5 694.6M257.7 694.4V714.4"/>
<circle cx="257.7" cy="757.7" r="8.6" fill="none" stroke="#000" stroke-width="1.9"/>
<text class="s" x="278.3" y="662.7" font-size="32.5" textLength="68.95" lengthAdjust="spacingAndGlyphs">Axial</text>
<text class="s" x="276.37" y="714.9" font-size="32.5" textLength="89.8" lengthAdjust="spacingAndGlyphs">Radial</text>
<text class="s" x="277.66" y="768.4" font-size="32.5" textLength="158.56" lengthAdjust="spacingAndGlyphs">Transverse</text>
<rect x="1185.95" y="645.05" width="16.5" height="16.5" fill="#cc0000"/>
<path fill="none" stroke="#55913a" stroke-width="2.2" stroke-linecap="round" d="M1184.4 696L1204 715.6M1184.4 715.6L1204 696M1194.2 695.8V715.8"/>
<circle cx="1194.2" cy="759" r="8.6" fill="none" stroke="#000" stroke-width="1.9"/>
<text class="s" x="1214.3" y="664.4" font-size="32.5" textLength="69.98" lengthAdjust="spacingAndGlyphs">Axial</text>
<text class="s" x="1212.83" y="717" font-size="32.5" textLength="91.06" lengthAdjust="spacingAndGlyphs">Radial</text>
<text class="s" x="1214.4" y="770.3" font-size="32.5" textLength="154.71" lengthAdjust="spacingAndGlyphs">transverse</text>
<rect x="1422.3" y="412" width="283.5" height="352.3" fill="#fff"/>
<text class="s" x="99.51" y="25.7" font-size="31.5" textLength="46.64" lengthAdjust="spacingAndGlyphs">0.3</text>
<text class="s" x="99.85" y="116.2" font-size="31.5" textLength="46.64" lengthAdjust="spacingAndGlyphs">0.2</text>
<text class="s" x="99.68" y="206.7" font-size="31.5" textLength="46.64" lengthAdjust="spacingAndGlyphs">0.1</text>
<text class="s" x="99.34" y="297.2" font-size="31.5" textLength="46.64" lengthAdjust="spacingAndGlyphs">0.0</text>
<text class="s" x="88.61" y="387.7" font-size="31.5" textLength="57.81" lengthAdjust="spacingAndGlyphs">-0.1</text>
<text class="s" x="88.78" y="478.2" font-size="31.5" textLength="57.81" lengthAdjust="spacingAndGlyphs">-0.2</text>
<text class="s" x="88.44" y="568.7" font-size="31.5" textLength="57.81" lengthAdjust="spacingAndGlyphs">-0.3</text>
<text class="s" x="1007.72" y="37.6" font-size="31.5" textLength="65.29" lengthAdjust="spacingAndGlyphs">0.30</text>
<text class="s" x="1007.72" y="126.38" font-size="31.5" textLength="65.29" lengthAdjust="spacingAndGlyphs">0.20</text>
<text class="s" x="1007.72" y="215.17" font-size="31.5" textLength="65.29" lengthAdjust="spacingAndGlyphs">0.10</text>
<text class="s" x="1007.72" y="303.95" font-size="31.5" textLength="65.29" lengthAdjust="spacingAndGlyphs">0.00</text>
<text class="s" x="996.49" y="392.73" font-size="31.5" textLength="76.47" lengthAdjust="spacingAndGlyphs">-0.10</text>
<text class="s" x="996.49" y="481.52" font-size="31.5" textLength="76.47" lengthAdjust="spacingAndGlyphs">-0.20</text>
<text class="s" x="996.49" y="570.3" font-size="31.5" textLength="76.47" lengthAdjust="spacingAndGlyphs">-0.30</text>
<text class="s" x="84.72" y="614.2" font-size="31.5" textLength="55.97" lengthAdjust="spacingAndGlyphs">400</text>
<text class="s" x="84.72" y="689.91" font-size="31.5" textLength="55.97" lengthAdjust="spacingAndGlyphs">300</text>
<text class="s" x="84.72" y="765.63" font-size="31.5" textLength="55.97" lengthAdjust="spacingAndGlyphs">200</text>
<text class="s" x="84.72" y="841.34" font-size="31.5" textLength="55.97" lengthAdjust="spacingAndGlyphs">100</text>
<text class="s" x="121.96" y="917.06" font-size="31.5" textLength="18.66" lengthAdjust="spacingAndGlyphs">0</text>
<text class="s" x="73.48" y="992.77" font-size="31.5" textLength="67.15" lengthAdjust="spacingAndGlyphs">-100</text>
<text class="s" x="73.48" y="1068.49" font-size="31.5" textLength="67.15" lengthAdjust="spacingAndGlyphs">-200</text>
<text class="s" x="73.48" y="1144.2" font-size="31.5" textLength="67.15" lengthAdjust="spacingAndGlyphs">-300</text>
<text class="s" x="1017.92" y="616.4" font-size="31.5" textLength="55.97" lengthAdjust="spacingAndGlyphs">400</text>
<text class="s" x="1017.92" y="691.97" font-size="31.5" textLength="55.97" lengthAdjust="spacingAndGlyphs">300</text>
<text class="s" x="1017.92" y="767.54" font-size="31.5" textLength="55.97" lengthAdjust="spacingAndGlyphs">200</text>
<text class="s" x="1017.92" y="843.11" font-size="31.5" textLength="55.97" lengthAdjust="spacingAndGlyphs">100</text>
<text class="s" x="1055.16" y="918.69" font-size="31.5" textLength="18.66" lengthAdjust="spacingAndGlyphs">0</text>
<text class="s" x="1006.68" y="994.26" font-size="31.5" textLength="67.15" lengthAdjust="spacingAndGlyphs">-100</text>
<text class="s" x="1006.68" y="1069.83" font-size="31.5" textLength="67.15" lengthAdjust="spacingAndGlyphs">-200</text>
<text class="s" x="1006.68" y="1145.4" font-size="31.5" textLength="67.15" lengthAdjust="spacingAndGlyphs">-300</text>
<text class="s" x="164.21" y="1191.4" font-size="31.5" textLength="18.66" lengthAdjust="spacingAndGlyphs">0</text>
<text class="s" x="295.1" y="1191.4" font-size="31.5" textLength="37.32" lengthAdjust="spacingAndGlyphs">50</text>
<text class="s" x="425.4" y="1191.4" font-size="31.5" textLength="55.97" lengthAdjust="spacingAndGlyphs">100</text>
<text class="s" x="565.6" y="1191.4" font-size="31.5" textLength="55.97" lengthAdjust="spacingAndGlyphs">150</text>
<text class="s" x="706.22" y="1191.4" font-size="31.5" textLength="55.97" lengthAdjust="spacingAndGlyphs">200</text>
<text class="s" x="1098.51" y="1192.6" font-size="31.5" textLength="18.66" lengthAdjust="spacingAndGlyphs">0</text>
<text class="s" x="1229.56" y="1192.6" font-size="31.5" textLength="37.32" lengthAdjust="spacingAndGlyphs">50</text>
<text class="s" x="1360.02" y="1192.6" font-size="31.5" textLength="55.97" lengthAdjust="spacingAndGlyphs">100</text>
<text class="s" x="1500.38" y="1192.6" font-size="31.5" textLength="55.97" lengthAdjust="spacingAndGlyphs">150</text>
<text class="s" x="1641.16" y="1192.6" font-size="31.5" textLength="55.97" lengthAdjust="spacingAndGlyphs">200</text>
<text class="s" x="212.49" y="1245" font-size="31.8" textLength="152.28" lengthAdjust="spacingAndGlyphs">Transverse</text>
<text class="s" x="374.91" y="1245" font-size="31.8" textLength="180.43" lengthAdjust="spacingAndGlyphs">compressive</text>
<text class="s" x="565.27" y="1245" font-size="31.8" textLength="82.78" lengthAdjust="spacingAndGlyphs">stress</text>
<text class="s" x="656.62" y="1245" font-size="31.8" textLength="85.34" lengthAdjust="spacingAndGlyphs">(MPa)</text>
<text class="s" x="1146.68" y="1246.5" font-size="31.8" textLength="154.61" lengthAdjust="spacingAndGlyphs">Transverse</text>
<text class="s" x="1311.4" y="1246.5" font-size="31.8" textLength="182.87" lengthAdjust="spacingAndGlyphs">compressive</text>
<text class="s" x="1503.76" y="1246.5" font-size="31.8" textLength="83.91" lengthAdjust="spacingAndGlyphs">stress</text>
<text class="s" x="1596.2" y="1246.5" font-size="31.8" textLength="86.17" lengthAdjust="spacingAndGlyphs">(MPa)</text>
<text class="s" transform="translate(33.5 569.2) rotate(-90)" x="-3.12" y="0" font-size="38.5" textLength="49.92" lengthAdjust="spacingAndGlyphs">Nb</text>
<text class="s" transform="translate(33.5 507) rotate(-90)" x="-1.55" y="0" font-size="38.5" textLength="42.1" lengthAdjust="spacingAndGlyphs">Sn</text>
<text class="s" transform="translate(33.5 455.5) rotate(-90)" x="-2.26" y="0" font-size="38.5" textLength="88.1" lengthAdjust="spacingAndGlyphs">(321)</text>
<text class="s" transform="translate(33.5 358.4) rotate(-90)" x="-1.56" y="0" font-size="38.5" textLength="110.62" lengthAdjust="spacingAndGlyphs">elastic</text>
<text class="s" transform="translate(33.5 240.7) rotate(-90)" x="-1.17" y="0" font-size="38.5" textLength="95.32" lengthAdjust="spacingAndGlyphs">strain</text>
<text class="s" transform="translate(33.5 133.6) rotate(-90)" x="-2.06" y="0" font-size="38.5" textLength="53.4" lengthAdjust="spacingAndGlyphs">(%)</text>
<text class="s" transform="translate(42.9 521.8) rotate(-90)" x="-1.03" y="0" font-size="25.5" textLength="14.28" lengthAdjust="spacingAndGlyphs">3</text>
<text class="s" transform="translate(986.5 479.6) rotate(-90)" x="-1.51" y="0" font-size="34.3" textLength="38.68" lengthAdjust="spacingAndGlyphs">Cu</text>
<text class="s" transform="translate(986.5 430.4) rotate(-90)" x="-1.91" y="0" font-size="34.3" textLength="74.16" lengthAdjust="spacingAndGlyphs">(220)</text>
<text class="s" transform="translate(986.5 349.2) rotate(-90)" x="-1.36" y="0" font-size="34.3" textLength="96.39" lengthAdjust="spacingAndGlyphs">elastic</text>
<text class="s" transform="translate(986.5 245) rotate(-90)" x="-1.02" y="0" font-size="34.3" textLength="82.94" lengthAdjust="spacingAndGlyphs">strain</text>
<text class="s" transform="translate(986.5 151.2) rotate(-90)" x="-1.75" y="0" font-size="34.3" textLength="45.46" lengthAdjust="spacingAndGlyphs">(%)</text>
<text class="s" transform="translate(32.2 1071.6) rotate(-90)" x="-2.98" y="0" font-size="37" textLength="47.59" lengthAdjust="spacingAndGlyphs">Nb</text>
<text class="s" transform="translate(32.2 1012.3) rotate(-90)" x="-1.54" y="0" font-size="37" textLength="41.77" lengthAdjust="spacingAndGlyphs">Sn</text>
<text class="s" transform="translate(32.2 962.3) rotate(-90)" x="-2.22" y="0" font-size="37" textLength="86.52" lengthAdjust="spacingAndGlyphs">(321)</text>
<text class="s" transform="translate(32.2 868.3) rotate(-90)" x="-1.08" y="0" font-size="37" textLength="96.12" lengthAdjust="spacingAndGlyphs">stress</text>
<text class="s" transform="translate(32.2 761.5) rotate(-90)" x="-2.16" y="0" font-size="37" textLength="98" lengthAdjust="spacingAndGlyphs">(MPa)</text>
<text class="s" transform="translate(41.4 1025.5) rotate(-90)" x="-0.94" y="0" font-size="25.5" textLength="13.11" lengthAdjust="spacingAndGlyphs">3</text>
<text class="s" transform="translate(966.8 1018.8) rotate(-90)" x="-1.59" y="0" font-size="37.8" textLength="40.55" lengthAdjust="spacingAndGlyphs">Cu</text>
<text class="s" transform="translate(966.8 967.3) rotate(-90)" x="-2.24" y="0" font-size="37.8" textLength="87.05" lengthAdjust="spacingAndGlyphs">(220)</text>
<text class="s" transform="translate(966.8 871.6) rotate(-90)" x="-1.12" y="0" font-size="37.8" textLength="99.19" lengthAdjust="spacingAndGlyphs">stress</text>
<text class="s" transform="translate(966.8 765.8) rotate(-90)" x="-2.18" y="0" font-size="37.8" textLength="98.95" lengthAdjust="spacingAndGlyphs">(MPa)</text>
<text class="s" x="216.07" y="524.5" font-size="36.5" textLength="47.56" lengthAdjust="spacingAndGlyphs">(a)</text>
<text class="s" x="1134.84" y="523.2" font-size="36.5" textLength="50.11" lengthAdjust="spacingAndGlyphs">(b)</text>
<text class="s" x="216.17" y="1107.3" font-size="36.5" textLength="43.41" lengthAdjust="spacingAndGlyphs">(c)</text>
<text class="s" x="1144.27" y="1107" font-size="36.5" textLength="49.45" lengthAdjust="spacingAndGlyphs">(d)</text>
<defs>
<linearGradient id="gTop" x1="0" y1="0" x2="1" y2="1"><stop offset="0" stop-color="#2a282f"/><stop offset="0.6" stop-color="#25232a"/><stop offset="1" stop-color="#333139"/></linearGradient>
<linearGradient id="gRight" x1="0" y1="0" x2="1" y2="1"><stop offset="0" stop-color="#5a5e67"/><stop offset="1" stop-color="#4a4e57"/></linearGradient>
<linearGradient id="gLeft" x1="0" y1="0" x2="1" y2="1"><stop offset="0" stop-color="#e9b886"/><stop offset="1" stop-color="#e2b07e"/></linearGradient>
<clipPath id="cLeft"><polygon points="1446.5,536 1561.3,575.5 1564.6,687.2 1456.8,641.5"/></clipPath>
<pattern id="pDots" width="3" height="3" patternUnits="userSpaceOnUse"><rect width="3" height="3" fill="none"/><circle cx="1.5" cy="1.5" r="0.55" fill="#c09060" fill-opacity="0.35"/></pattern>
</defs>
<polygon points="1446.5,536 1523.5,471 1635.5,507.7 1561.3,575.5" fill="url(#gTop)"/>
<polygon points="1561.3,575.5 1635.5,507.7 1635.5,610.8 1564.6,687.2" fill="url(#gRight)"/>
<polygon points="1446.5,536 1561.3,575.5 1564.6,687.2 1456.8,641.5" fill="url(#gLeft)"/>
<polygon points="1446.5,536 1561.3,575.5 1564.6,687.2 1456.8,641.5" fill="url(#pDots)"/>
<path clip-path="url(#cLeft)" d="M1444.58 546.08L1564.65 588.23M1445.59 556.36L1564.97 599.12M1446.59 566.65L1565.29 610.01M1447.59 576.94L1565.61 620.9M1448.6 587.22L1565.93 631.79M1449.6 597.51L1566.26 642.68M1450.61 607.79L1566.58 653.57M1451.61 618.08L1566.9 664.46M1452.62 628.37L1567.22 675.35M1453.62 638.65L1567.54 686.25" stroke="#857645" stroke-width="2.6" fill="none"/>
<polyline points="1561.3,575.5 1635.5,507.7" fill="none" stroke="#5a5d63" stroke-width="1.2" stroke-opacity="0.7"/>
<path d="M1561.3 575.5L1507.5 558.3M1561.3 575.5L1593.5 549.5M1561.3 575.5L1561.6 631" stroke="#ff0000" stroke-width="1.6" fill="none"/>
<polygon points="1499.6,555.8 1510.4,552.6 1507.2,562.6" fill="#ff0000"/>
<polygon points="1600.4,543.6 1590.2,546.2 1596.6,553.8" fill="#ff0000"/>
<polygon points="1562,639.8 1556.8,629.8 1567.2,629.8" fill="#ff0000"/>
<path d="M1537 450.7H1543.6V487H1551.8L1540.3 510.4L1529 487H1537Z" fill="#0000ff"/>
<path d="M1540.3 682.3L1551.8 705H1543.6V732.4H1537V705H1529Z" fill="#0000ff"/>
<text class="r" x="1473.47" y="726.5" font-size="24" textLength="49.86" lengthAdjust="spacingAndGlyphs">Load</text>
<text class="r" x="1449.57" y="545" font-size="24" textLength="63.2" lengthAdjust="spacingAndGlyphs" stroke="#f4f4f4" stroke-width="3.6" paint-order="stroke" stroke-linejoin="round">Radial</text>
<text class="r" x="1578.97" y="532.3" font-size="24" textLength="52.13" lengthAdjust="spacingAndGlyphs" stroke="#f4f4f4" stroke-width="3.6" paint-order="stroke" stroke-linejoin="round">Axial</text>
<text class="r" x="1574.93" y="648.3" font-size="24" textLength="108.72" lengthAdjust="spacingAndGlyphs" stroke="#f4f4f4" stroke-width="3.6" paint-order="stroke" stroke-linejoin="round">Transversal</text>
</svg>
</div></body></html>
